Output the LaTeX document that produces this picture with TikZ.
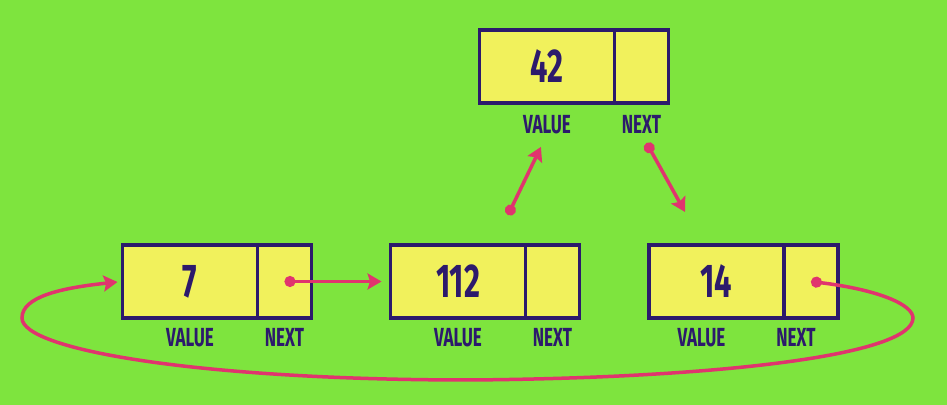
\documentclass[tikz,border=0pt]{standalone}
\usepackage{fontspec}
\newfontfamily\condfont[FakeStretch=0.65]{Fira Sans}
\usetikzlibrary{arrows.meta,positioning}
\definecolor{bggreen}{RGB}{126,228,62}
\definecolor{boxfill}{RGB}{241,241,92}
\definecolor{boxedge}{RGB}{44,26,108}
\definecolor{linkpink}{RGB}{224,52,110}

\begin{document}
\begin{tikzpicture}[x=0.02cm, y=0.02cm]
% STYLES
\tikzset{
    valbox/.style={rectangle, draw=boxedge, fill=boxfill, line width=0.075cm,
    minimum width=2.7cm, minimum height=1.46cm, inner sep=0pt, outer sep=0pt,
    text=boxedge, font=\condfont\bfseries\fontsize{27}{27}\selectfont},
    nextbox/.style={valbox, minimum width=1.08cm},
    lbl/.style={inner sep=0pt, text=boxedge,
    font=\condfont\bfseries\fontsize{14.9}{15}\selectfont},
    link/.style={draw=linkpink, line width=0.07cm,
    {Circle[length=0.22cm]}-{Stealth[length=0.28cm,width=0.32cm,inset=0.05cm]}}
}
\fill[bggreen] (0,0) rectangle (947,405);
\useasboundingbox (0,0) rectangle (947,405);

% the nodes
\node [valbox] (v7) at (190,123.5) {7};
\node [nextbox, right=0pt of v7] (n7) {};
\node [valbox] (v112) at (458,123.5) {112};
\node [nextbox, right=0pt of v112] (n112) {};
\node [valbox] (v14) at (716.5,123.5) {14\hspace{0.56cm}};
\node [nextbox, right=0pt of v14] (n14) {};
\node [valbox] (v42) at (547,338.5) {42};
\node [nextbox, right=0pt of v42] (n42) {};

% labels under the boxes
\node [lbl, below=0.2cm of v7] (v7lbl) {VALUE};
\node [lbl, below=0.2cm of n7] (n7lbl) {NEXT};
\node [lbl, below=0.2cm of v112] (v112lbl) {VALUE};
\node [lbl, below=0.2cm of n112] (n112lbl) {NEXT};
\node [lbl, below=0.2cm of v14, xshift=-0.3cm] (v14lbl) {VALUE};
\node [lbl, below=0.2cm of n14, xshift=-0.3cm] (n14lbl) {NEXT};
\node [lbl, below=0.24cm of v42] (v42lbl) {VALUE};
\node [lbl, below=0.24cm of n42] (n42lbl) {NEXT};

\coordinate (rise) at (508,190);
\coordinate (fall) at (685,193);

% Draw the links between
\draw[link, shorten >=0.18cm] (n7.center) -- (v112.west);
\draw[link, shorten >=0.28cm] (rise) -- (v42lbl.south);
\draw[link, shorten <=0.21cm] (n42lbl.south) -- (fall);
\draw[link, shorten >=0.1cm] (n14.center)
   .. controls (880,115) and (913,100) .. (913,87)
   .. controls (913,50) and (720,27) .. (470,25)
   .. controls (200,25) and (22,55) .. (22,87)
   .. controls (22,108) and (60,117) .. (v7.west);

\end{tikzpicture}
\end{document}
